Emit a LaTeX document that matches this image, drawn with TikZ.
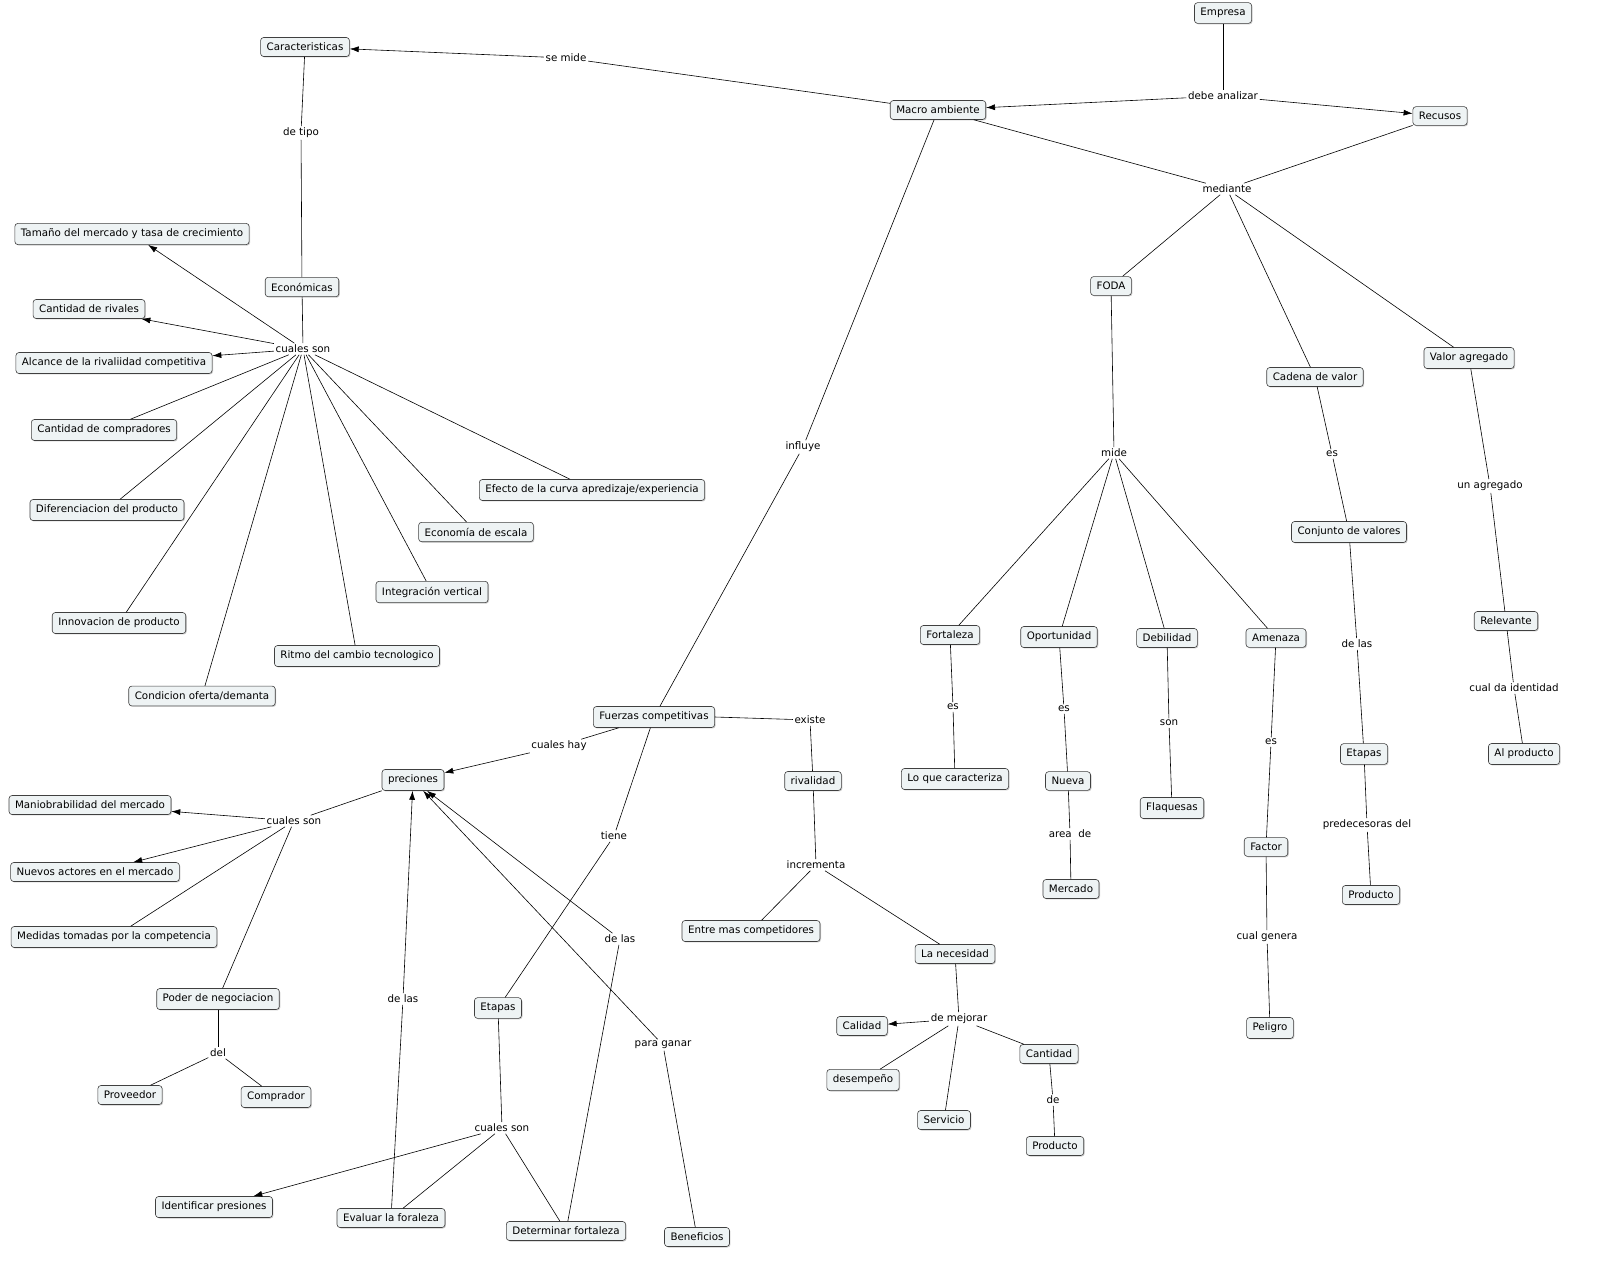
\documentclass[tikz,border=0pt]{standalone}
\usepackage{fontspec}
\setmainfont{DejaVu Sans}
\usetikzlibrary{arrows.meta,shadows}
\definecolor{nodefill}{HTML}{EEF3F4}
\begin{document}
\begin{tikzpicture}[x=1pt,y=-1pt,
 cn/.style={draw=black!75,fill=nodefill,rounded corners=3pt,inner xsep=6pt,inner ysep=5.5pt,font=\fontsize{10.3}{12}\selectfont,drop shadow={shadow xshift=1pt,shadow yshift=-1pt,fill=black!40}},
 lb/.style={fill=white,inner sep=1.5pt,font=\fontsize{10.3}{12}\selectfont},
 ar/.style={-{Latex[length=9pt,width=6pt]}},
 every path/.style={line width=0.6pt}]
\useasboundingbox (0,0) rectangle (1600,1277);
% nodes
\node[cn] (emp) at (1223,13) {Empresa};
\node[lb] (deb) at (1223,96) {debe analizar};
\node[cn] (mac) at (938,110) {Macro ambiente};
\node[cn] (rec) at (1440,116) {Recusos};
\node[lb] (sem) at (566,58) {se mide};
\node[cn] (car) at (305,47) {Caracteristicas};
\node[lb] (dti) at (301,133) {de tipo};
\node[cn] (eco) at (302,287) {Económicas};
\node[lb] (cs1) at (303,349) {cuales son};
\node[cn] (e1) at (132,234) {Tamaño del mercado y tasa de crecimiento};
\node[cn] (e2) at (89,309) {Cantidad de rivales};
\node[cn] (e3) at (114,363) {Alcance de la rivaliidad competitiva};
\node[cn] (e4) at (104,430) {Cantidad de compradores};
\node[cn] (e5) at (107,510) {Diferenciacion del producto};
\node[cn] (e6) at (119,623) {Innovacion de producto};
\node[cn] (e7) at (202,696) {Condicion oferta/demanta};
\node[cn] (e8) at (357,656) {Ritmo del cambio tecnologico};
\node[cn] (e9) at (432,592) {Integración vertical};
\node[cn] (e10) at (476,532) {Economía de escala};
\node[cn] (e11) at (592,490) {Efecto de la curva apredizaje/experiencia};
\node[lb] (med) at (1227,189) {mediante};
\node[cn] (foda) at (1111,286) {FODA};
\node[cn] (cad) at (1315,377) {Cadena de valor};
\node[cn] (val) at (1469,358) {Valor agregado};
\node[lb] (inf) at (803,447) {influye};
\node[lb] (mide) at (1114,453) {mide};
\node[cn] (fort) at (950,635) {Fortaleza};
\node[cn] (opo) at (1059,637) {Oportunidad};
\node[cn] (deb2) at (1167,638) {Debilidad};
\node[cn] (ame) at (1276,638) {Amenaza};
\node[lb] (es1) at (953,707) {es};
\node[cn] (loq) at (955,779) {Lo que caracteriza};
\node[lb] (es2) at (1064,709) {es};
\node[cn] (nue) at (1068,781) {Nueva};
\node[lb] (are) at (1070,834) {area\ \ de};
\node[cn] (mer) at (1071,889) {Mercado};
\node[lb] (son) at (1169,723) {son};
\node[cn] (fla) at (1172,808) {Flaquesas};
\node[lb] (es3) at (1271,742) {es};
\node[cn] (fac) at (1266,847) {Factor};
\node[lb] (cge) at (1267,937) {cual genera};
\node[cn] (pel) at (1270,1028) {Peligro};
\node[lb] (es4) at (1332,454) {es};
\node[cn] (con) at (1349,532) {Conjunto de valores};
\node[lb] (dls) at (1357,644) {de las};
\node[cn] (eta2) at (1364,754) {Etapas};
\node[lb] (pre) at (1367,825) {predecesoras del};
\node[cn] (pro2) at (1371,895) {Producto};
\node[lb] (una) at (1490,486) {un agregado};
\node[cn] (rel) at (1506,621) {Relevante};
\node[lb] (cdi) at (1514,688) {cual da identidad};
\node[cn] (alp) at (1524,754) {Al producto};
\node[cn] (fue) at (654,717) {Fuerzas competitivas};
\node[lb] (chy) at (559,746) {cuales hay};
\node[cn] (prc) at (413,780) {preciones};
\node[lb] (exi) at (810,720) {existe};
\node[cn] (riv) at (813,781) {rivalidad};
\node[lb] (inc) at (816,865) {incrementa};
\node[cn] (ent) at (751,931) {Entre mas competidores};
\node[cn] (nec) at (955,954) {La necesidad};
\node[lb] (dme) at (959,1019) {de mejorar};
\node[cn] (cal) at (862,1026) {Calidad};
\node[cn] (des) at (863,1080) {desempeño};
\node[cn] (ser) at (944,1120) {Servicio};
\node[cn] (can) at (1049,1054) {Cantidad};
\node[lb] (de) at (1053,1100) {de};
\node[cn] (pro3) at (1055,1146) {Producto};
\node[lb] (tie) at (614,836) {tiene};
\node[cn] (eta) at (498,1008) {Etapas};
\node[lb] (cs3) at (502,1128) {cuales son};
\node[cn] (idp) at (214,1207) {Identificar presiones};
\node[cn] (evf) at (391,1218) {Evaluar la foraleza};
\node[cn] (def) at (566,1231) {Determinar fortaleza};
\node[lb] (dl1) at (403,999) {de las};
\node[lb] (dl2) at (620,939) {de las};
\node[cn] (ben) at (697,1237) {Beneficios};
\node[lb] (pga) at (663,1045) {para ganar};
\node[lb] (cs2) at (294,821) {cuales son};
\node[cn] (m1) at (90,805) {Maniobrabilidad del mercado};
\node[cn] (m2) at (95,872) {Nuevos actores en el mercado};
\node[cn] (m3) at (114,937) {Medidas tomadas por la competencia};
\node[cn] (pod) at (218,999) {Poder de negociacion};
\node[lb] (del) at (218,1053) {del};
\node[cn] (prv) at (130,1095) {Proveedor};
\node[cn] (com) at (276,1097) {Comprador};
% connectors
\draw (emp)--(deb); \draw[ar] (deb)--(mac); \draw[ar] (deb)--(rec);
\draw (mac)--(sem); \draw[ar] (sem)--(car);
\draw (car)--(dti)--(eco)--(cs1);
\draw[ar] (cs1)--(e1); \draw[ar] (cs1)--(e2); \draw[ar] (cs1)--(e3);
\foreach \n in {e4,e5,e6,e7,e8,e9,e10,e11} \draw (cs1)--(\n);
\draw (mac)--(med); \draw (rec)--(med);
\draw (med)--(foda); \draw (med)--(cad); \draw (med)--(val);
\draw (mac)--(inf)--(fue);
\draw (foda)--(mide);
\foreach \n in {fort,opo,deb2,ame} \draw (mide)--(\n);
\draw (fort)--(es1)--(loq);
\draw (opo)--(es2)--(nue)--(are)--(mer);
\draw (deb2)--(son)--(fla);
\draw (ame)--(es3)--(fac)--(cge)--(pel);
\draw (cad)--(es4)--(con)--(dls)--(eta2)--(pre)--(pro2);
\draw (val)--(una)--(rel)--(cdi)--(alp);
\draw (fue)--(chy); \draw[ar] (chy)--(prc);
\draw (fue.east)--(exi)--(riv)--(inc);
\draw (inc)--(ent); \draw (inc)--(nec);
\draw (nec)--(dme); \draw[ar] (dme)--(cal); \draw (dme)--(des); \draw (dme)--(ser); \draw (dme)--(can);
\draw (can)--(de)--(pro3);
\draw (fue)--(tie)--(eta)--(cs3);
\draw[ar] (cs3)--(idp); \draw (cs3)--(evf); \draw (cs3)--(def);
\draw (evf)--(dl1); \draw[ar] (dl1)--(prc);
\draw (def)--(dl2); \draw[ar] (dl2)--(prc);
\draw (ben)--(pga); \draw[ar] (pga)--(prc);
\draw (prc)--(cs2);
\draw[ar] (cs2)--(m1); \draw[ar] (cs2)--(m2); \draw (cs2)--(m3); \draw (cs2)--(pod);
\draw (pod)--(del); \draw (del)--(prv); \draw (del)--(com);
\end{tikzpicture}
\end{document}
